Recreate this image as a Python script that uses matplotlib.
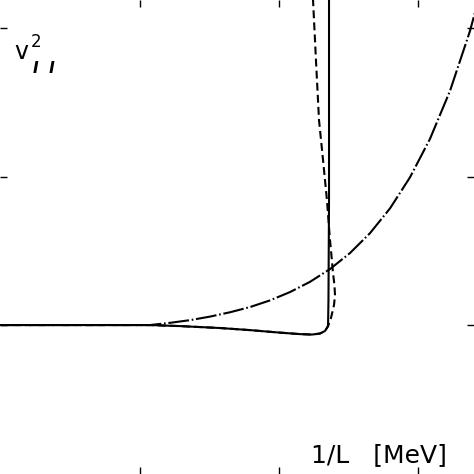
import matplotlib
matplotlib.use("Agg")
import matplotlib.pyplot as plt

# Solid curve (x in units of 1/L, y in v^2 units)
solid_x = [0.0, 1.072, 1.288, 1.576, 1.791, 2.007, 2.151, 2.237, 2.295, 2.331, 2.353, 2.356, 2.360, 2.360, 2.360, 2.360]
solid_y = [0.0, 0.0, -0.007, -0.020, -0.034, -0.051, -0.061, -0.064, -0.057, -0.040, -0.007, 0.168, 0.842, 1.515, 2.189, 2.32]

# Dashed curve
dashed_x = [0.0, 1.072, 1.288, 1.576, 1.791, 2.007, 2.151, 2.237, 2.295, 2.331, 2.353,
            2.374, 2.396, 2.403, 2.399, 2.388, 2.374, 2.367, 2.345, 2.317, 2.288, 2.266, 2.245, 2.237]
dashed_y = [0.0, 0.0, -0.007, -0.020, -0.034, -0.051, -0.061, -0.064, -0.057, -0.040, -0.007,
            0.047, 0.135, 0.202, 0.269, 0.357, 0.505, 0.572, 0.842, 1.111, 1.380, 1.785, 2.189, 2.323]

# Dash-dot curve
dashdot_x = [0.0, 1.072, 1.216, 1.360, 1.504, 1.647, 1.791, 1.935, 2.079, 2.223, 2.367,
             2.511, 2.655, 2.799, 2.942, 3.086, 3.230, 3.374, 3.518]
dashdot_y = [0.0, 0.0, 0.015, 0.033, 0.057, 0.086, 0.121, 0.166, 0.222, 0.291, 0.377,
             0.485, 0.619, 0.786, 0.994, 1.253, 1.576, 1.98, 2.48]

x_ticks = [1, 2, 3]
y_ticks = [0, 1, 2]

fig = plt.figure(figsize=(4.74, 4.74), dpi=100)
ax = fig.add_axes([0, 0, 1, 1])

lw = 1.5
ax.plot(solid_x, solid_y, color="black", lw=lw, solid_joinstyle="round")
ax.plot(dashed_x, dashed_y, color="black", lw=lw, dashes=(3.8, 2.0))
ax.plot(dashdot_x, dashdot_y, color="black", lw=lw, dashes=(10, 1.3, 0.8, 1.3))

ax.set_xlim(-0.007, 3.403)
ax.set_ylim(-1.003, 2.189)

ax.set_xticks(x_ticks)
ax.set_yticks(y_ticks)
ax.tick_params(direction="in", length=5, width=1, top=True, right=True,
               labelbottom=False, labelleft=False, color="black")
for s in ax.spines.values():
    s.set_visible(False)

def ftxt(px, py, s, **kw):
    fig.text(px / 474, 1 - py / 474, s, va="baseline", family="DejaVu Sans", **kw)

# x-axis label
ftxt(447, 462, "1/L   [MeV]", ha="right", fontsize=18)

# y-axis label v^2_||
ftxt(14, 59, "v", ha="left", fontsize=17)
ftxt(31, 47, "2", ha="left", fontsize=12)
ftxt(33, 73, "I  I", ha="left", fontsize=11, style="italic", fontweight="bold")

fig.savefig("out.png", dpi=100)
